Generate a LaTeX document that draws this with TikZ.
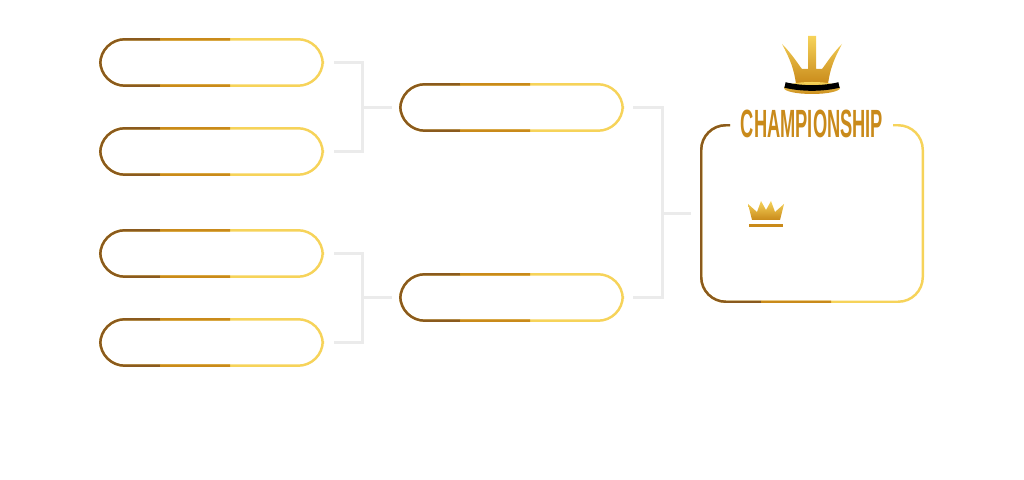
\documentclass[tikz,border=0pt]{standalone}
\usepackage{fontspec}
\setmainfont{Liberation Sans}
\usepackage{graphicx}
\usetikzlibrary{positioning}
\definecolor{bronze}{HTML}{8A5A1E}
\definecolor{gold}{HTML}{F6D35A}
\definecolor{deepgold}{HTML}{C98A1A}
\definecolor{wire}{HTML}{EBEBEB}
\newcommand{\goldframe}[1]{%
  \draw[gold, rounded corners=7pt, line width=0.7pt] (#1.north west) rectangle (#1.south east);
  \begin{scope}
    \clip ([shift={(-5,-5)}]#1.north west) rectangle ([shift={(60,5)}]#1.south west);
    \draw[bronze, rounded corners=7pt, line width=0.7pt] (#1.north west) rectangle (#1.south east);
  \end{scope}
  \begin{scope}
    \clip ([shift={(60,-5)}]#1.north west) rectangle ([shift={(130,5)}]#1.south west);
    \draw[deepgold, rounded corners=7pt, line width=0.7pt] (#1.north west) rectangle (#1.south east);
  \end{scope}}
\begin{document}
\begin{tikzpicture}[x=0.01cm, y=-0.01cm,
  slot/.style={minimum width=2.21cm, minimum height=0.45cm, inner sep=0pt},
  wires/.style={draw=wire, line width=0.8pt}]
  \useasboundingbox (0,0) rectangle (1024,480);

  % first round
  \foreach \pos/\name in {{(211.5,62.5)/r1a}, {(211.5,151.5)/r1b}, {(211.5,253.5)/r1c}, {(211.5,342.5)/r1d}}
      \node[slot] (\name) at \pos {};
  % semifinal
  \foreach \pos/\name in {{(511.5,107.5)/r2a}, {(511.5,297.5)/r2b}}
      \node[slot] (\name) at \pos {};
  % final
  \node[minimum width=2.2cm, minimum height=1.75cm, inner sep=0pt] (final) at (812,213.5) {};

  \foreach \name in {r1a, r1b, r1c, r1d, r2a, r2b} {\goldframe{\name}}

  \draw[wires] ([shift={(11,0)}]r1a.east) -| ([shift={(40,0)}]r1a.east) |- ([shift={(11,0)}]r1b.east);
  \draw[wires] ([shift={(40,0)}]r1a.east |- r2a.west) -- ([shift={(-8,0)}]r2a.west);
  \draw[wires] ([shift={(11,0)}]r1c.east) -| ([shift={(40,0)}]r1c.east) |- ([shift={(11,0)}]r1d.east);
  \draw[wires] ([shift={(40,0)}]r1c.east |- r2b.west) -- ([shift={(-8,0)}]r2b.west);
  \draw[wires] ([shift={(10,0)}]r2a.east) -| ([shift={(40,0)}]r2a.east) |- ([shift={(10,0)}]r2b.east);
  \draw[wires] ([shift={(40,0)}]r2a.east |- final.west) -- ([shift={(-10,0)}]final.west);

  % final box with a gap for the title
  \begin{scope}
    \clip (0,0) rectangle (730,480) (893,0) rectangle (1024,480) (0,135) rectangle (1024,480);
    \goldframe{final}
  \end{scope}
  \node[text=deepgold, font=\bfseries, inner sep=0pt] (title) at (812,124)
      {\scalebox{0.52}[1.12]{\fontsize{10}{10}\selectfont CHAMPIONSHIP}};

  % big crown
  \begin{scope}[shift={(812,64)}]
    \shade[top color=gold, bottom color=deepgold]
      (-30,-20) .. controls (-22,-5) and (-18,5) .. (-16,20)
      -- (16,20) .. controls (18,5) and (22,-5) .. (30,-20)
      .. controls (20,-10) and (14,0) .. (10,5) -- (4,5) -- (4,-28) -- (-4,-28) -- (-4,5)
      -- (-10,5) .. controls (-14,0) and (-20,-10) .. (-30,-20) -- cycle;
    \shade[top color=gold, bottom color=deepgold] (0,24) ellipse (28 and 6);
    \draw[black, line width=1.6pt] (-27,21) .. controls (-10,25) and (10,25) .. (27,21);
  \end{scope}

  % small crown
  \begin{scope}[shift={(766,214)}]
    \shade[top color=gold, bottom color=deepgold]
      (-18,-10) -- (-14,6) -- (14,6) -- (18,-10) -- (9,-2) -- (5,-13) -- (0,-4) -- (-5,-13) -- (-9,-2) -- cycle;
    \fill[deepgold] (-17,10) rectangle (17,13);
  \end{scope}
\end{tikzpicture}
\end{document}
